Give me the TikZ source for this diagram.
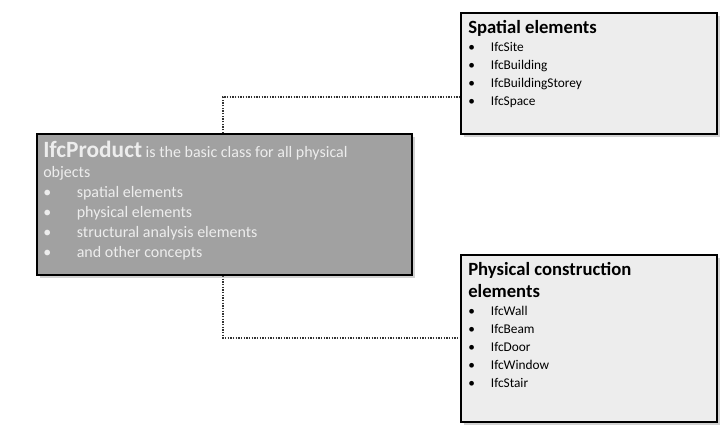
\documentclass[tikz,border=0pt]{standalone}
\usepackage{fontspec}
\setmainfont{Carlito}
\usetikzlibrary{shadows}
\pgfdeclarelayer{bg}
\pgfsetlayers{bg,main}
\begin{document}
\begin{tikzpicture}[x=0.75pt,y=-0.75pt,
  box/.style={draw=black,line width=1.5pt,anchor=north west,inner sep=0pt,drop shadow={shadow xshift=2pt,shadow yshift=-2pt,opacity=0.35}},
  itm/.style={anchor=north west,align=left,font=\fontsize{10}{13.5}\selectfont,inner sep=0pt},
  conn/.style={densely dotted,line width=1pt,black!80}]
\useasboundingbox (0,0) rectangle (724,436);
\begin{pgfonlayer}{bg}\fill[white] (0,0) rectangle (724,436);\end{pgfonlayer}
\node[box,fill=white!93!black,minimum width=256*0.75pt,minimum height=121*0.75pt] (sp) at (460,12) {};
\node[itm] (spt) at (468,20)
 {{\fontsize{14}{14}\selectfont\bfseries Spatial elements}\\
 \textbullet\hspace{1.2em}IfcSite\\ \textbullet\hspace{1.2em}IfcBuilding\\ \textbullet\hspace{1.2em}IfcBuildingStorey\\ \textbullet\hspace{1.2em}IfcSpace};
\node[box,fill=white!93!black,minimum width=256*0.75pt,minimum height=167*0.75pt] (ph) at (460,254) {};
\node[itm] (pht) at (468,262)
 {{\fontsize{14}{14}\selectfont\bfseries Physical construction}\\[3pt]{\fontsize{14}{14}\selectfont\bfseries elements}\\
 \textbullet\hspace{1.2em}IfcWall\\ \textbullet\hspace{1.2em}IfcBeam\\ \textbullet\hspace{1.2em}IfcDoor\\ \textbullet\hspace{1.2em}IfcWindow\\ \textbullet\hspace{1.2em}IfcStair};
\node[box,fill=black!37,minimum width=375*0.75pt,minimum height=141*0.75pt] (mb) at (36,133) {};
\node[anchor=north west,align=left,text=white!93!black,font=\fontsize{12}{15}\selectfont,inner sep=0pt] (mt) at (43,141)
 {{\fontsize{17.5}{15}\selectfont\bfseries IfcProduct} is the basic class for all physical\\ objects\\
 \textbullet\hspace{1.6em}spatial elements\\ \textbullet\hspace{1.6em}physical elements\\ \textbullet\hspace{1.6em}structural analysis elements\\ \textbullet\hspace{1.6em}and other concepts};
\coordinate (c1) at (223,97);
\coordinate (c2) at (223,338);
\begin{pgfonlayer}{bg}
\draw[conn] (mb.north west -| c1) -- (c1) -- (c1 -| sp.west);
\draw[conn] (mb.south west -| c2) -- (c2) -- (c2 -| ph.west);
\end{pgfonlayer}
\end{tikzpicture}
\end{document}
